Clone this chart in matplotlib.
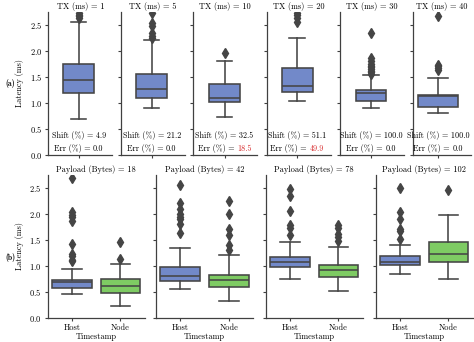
import matplotlib
matplotlib.use("Agg")
import matplotlib.pyplot as plt
from matplotlib.offsetbox import TextArea, HPacker, AnnotationBbox

plt.rcParams["font.family"] = ["cmr10", "DejaVu Serif"]
plt.rcParams["mathtext.fontset"] = "cm"
plt.rcParams["axes.formatter.use_mathtext"] = True

# ---- data ----
tx = [1, 5, 10, 20, 30, 40]
tx_q1 = [1.19, 1.09, 1.01, 1.21, 1.03, 0.92]
tx_med = [1.44, 1.275, 1.10, 1.32, 1.19, 1.13]
tx_q3 = [1.75, 1.56, 1.36, 1.67, 1.24, 1.15]
tx_lo = [0.70, 0.90, 0.73, 1.04, 0.90, 0.81]
tx_hi = [2.56, 2.21, 1.81, 2.24, 1.53, 1.47]
tx_fliers = [[2.63, 2.66, 2.69, 2.73],
             [2.25, 2.28, 2.34, 2.48, 2.53, 2.73],
             [1.96],
             [2.55, 2.62, 2.68, 2.72],
             [1.56, 1.59, 1.62, 1.65, 1.68, 1.71, 1.75, 1.8, 1.87, 2.35],
             [1.63, 1.66, 1.7, 1.73, 2.66]]
shift = [4.9, 21.2, 32.5, 51.1, 100.0, 100.0]
err = [0.0, 0.0, 18.5, 49.9, 0.0, 0.0]

payload = [18, 42, 78, 102]
stamps = ["Host", "Node"]
host_q1 = [0.58, 0.70, 0.97, 1.01]
host_med = [0.686, 0.81, 1.068, 1.08]
host_q3 = [0.725, 0.977, 1.178, 1.184]
host_lo = [0.453, 0.55, 0.744, 0.84]
host_hi = [0.945, 1.346, 1.456, 1.41]
host_fliers = [[2.69, 2.03, 1.98, 1.95, 1.86, 1.42, 1.22, 1.18, 1.12, 1.09],
               [2.56, 2.22, 2.09, 2.0, 1.95, 1.9, 1.8, 1.64],
               [2.48, 2.34, 2.06, 1.78, 1.72, 1.6],
               [2.5, 2.03, 1.9, 1.7, 1.67, 1.51]]
node_q1 = [0.485, 0.59, 0.777, 1.08]
node_med = [0.608, 0.72, 0.913, 1.23]
node_q3 = [0.738, 0.83, 1.023, 1.463]
node_lo = [0.227, 0.32, 0.518, 0.738]
node_hi = [1.035, 1.2, 1.366, 1.974]
node_fliers = [[1.46, 1.13],
               [2.24, 1.99, 1.7, 1.6, 1.41, 1.31],
               [1.78, 1.72, 1.62, 1.55, 1.48],
               [2.46]]

blue = "#7289c9"
green = "#7ecb63"
gray = "#454545"
red = "#d62728"

W, H = 474, 342
fig = plt.figure(figsize=(W / 100, H / 100), dpi=100)


def px_axes(left, top, width, height):
    return fig.add_axes([left / W, 1 - (top + height) / H, width / W, height / H])


def style(ax):
    for s in ["top", "right"]:
        ax.spines[s].set_visible(False)
    for s in ["left", "bottom"]:
        ax.spines[s].set_color("0.25")
        ax.spines[s].set_linewidth(0.9)
    ax.tick_params(direction="out", length=2.5, width=0.8, color="0.25",
                   labelsize=6, pad=2)
    ax.set_ylim(0, 2.75)
    ax.set_yticks([0, 0.5, 1.0, 1.5, 2.0, 2.5])


def draw_boxes(ax, stats, positions, colors, widths):
    b = ax.bxp(stats, positions=positions, widths=widths, patch_artist=True,
               manage_ticks=False,
               boxprops=dict(edgecolor=gray, linewidth=1.15),
               whiskerprops=dict(color=gray, linewidth=1.15),
               capprops=dict(color=gray, linewidth=1.15),
               medianprops=dict(color=gray, linewidth=1.15),
               flierprops=dict(marker="d", markerfacecolor=gray,
                               markeredgecolor=gray, markersize=5))
    for patch, c in zip(b["boxes"], colors):
        patch.set_facecolor(c)
    for f in b["fliers"]:
        f.set_clip_on(True)


# ---- top row: TX interval ----
top_left = [48.3, 120.7, 193.3, 266.7, 340.0, 412.7]
top_center = [78.7, 151.7, 224.5, 297.2, 371.0, 438.3]
top_w = [64, 64, 64, 64, 64, 58]
top_box = [30.7, 30.7, 30.7, 31.0, 30.7, 40.0]

for i in range(len(tx)):
    ax = px_axes(top_left[i], 11.7, top_w[i], 143.3)
    style(ax)
    u = top_box[i] / 0.8
    ax.set_xlim((top_left[i] - top_center[i]) / u,
                (top_left[i] + top_w[i] - top_center[i]) / u)
    st = dict(q1=tx_q1[i], med=tx_med[i], q3=tx_q3[i], whislo=tx_lo[i],
              whishi=tx_hi[i], fliers=tx_fliers[i])
    draw_boxes(ax, [st], [0], [blue], 0.8)
    ax.set_xticks([0])
    ax.set_xticklabels([])
    ax.set_title("TX (ms) = %d" % tx[i], fontsize=6, pad=2)
    ax.text(0, 0.37, "Shift (%%) = %.1f" % shift[i], fontsize=5.8,
            ha="center", va="center")
    pack = HPacker(children=[
        TextArea("Err (%) =", textprops=dict(fontsize=5.8, color="black")),
        TextArea("%.1f" % err[i],
                 textprops=dict(fontsize=5.8, color=red if err[i] > 0 else "black"))],
        align="baseline", pad=0, sep=2)
    ab = AnnotationBbox(pack, (0, 0.13), xycoords="data", frameon=False,
                        box_alignment=(0.5, 0.5), pad=0, annotation_clip=False)
    ax.add_artist(ab)
    if i == 0:
        ax.set_ylabel("Latency (ms)", fontsize=6, labelpad=4)
    else:
        ax.set_yticklabels([])

# ---- bottom row: payload size ----
bot_left = [47.7, 156.0, 265.7, 375.7]
for i in range(len(payload)):
    ax = px_axes(bot_left[i], 175.0, 97, 142.7)
    style(ax)
    ax.set_xlim(-0.5, 1.5)
    st = [dict(q1=host_q1[i], med=host_med[i], q3=host_q3[i], whislo=host_lo[i],
               whishi=host_hi[i], fliers=host_fliers[i]),
          dict(q1=node_q1[i], med=node_med[i], q3=node_q3[i], whislo=node_lo[i],
               whishi=node_hi[i], fliers=node_fliers[i])]
    draw_boxes(ax, st, [0, 1], [blue, green], 0.82)
    ax.set_xticks([0, 1])
    ax.set_xticklabels(stamps)
    ax.set_xlabel("Timestamp", fontsize=6, labelpad=0)
    ax.set_title("Payload (Bytes) = %d" % payload[i], fontsize=6, pad=2.5)
    if i == 0:
        ax.set_ylabel("Latency (ms)", fontsize=6, labelpad=4)
    else:
        ax.set_yticklabels([])

fig.text(5 / W, 1 - 84 / H, "(a)", fontsize=5.5, family="cmb10",
         ha="left", va="center")
fig.text(5 / W, 1 - 258 / H, "(b)", fontsize=5.5, family="cmb10",
         ha="left", va="center")

fig.savefig("out.png", dpi=100)
